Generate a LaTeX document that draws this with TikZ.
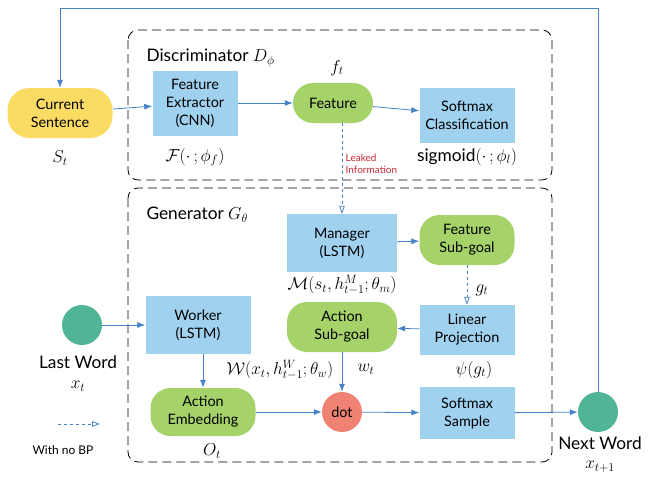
\documentclass[tikz,border=0pt]{standalone}
\usepackage{amsmath,amssymb}
\usepackage{fontspec}
\setmainfont{Lato}
\usetikzlibrary{calc,arrows.meta}
\definecolor{boxblue}{RGB}{160,210,240}
\definecolor{boxgreen}{RGB}{165,210,105}
\definecolor{boxyellow}{RGB}{250,220,100}
\definecolor{wordteal}{RGB}{80,180,150}
\definecolor{dotred}{RGB}{240,130,115}
\definecolor{arrowblue}{RGB}{70,130,200}
\definecolor{leakred}{RGB}{200,40,50}
\tikzset{
  block/.style={fill=boxblue,inner sep=2pt,minimum width=#1,minimum height=58pt,align=center,font=\Large},
  pill/.style={fill=boxgreen,inner sep=2pt,rounded corners=20pt,minimum width=#1,minimum height=46pt,align=center,font=\Large},
  word/.style={circle,fill=wordteal,minimum size=40pt},
  flow/.style={arrowblue,thick,-{Latex[length=8pt]}},
  nobp/.style={arrowblue,thick,dashed,-{Triangle[open,length=8pt]}},
  frame/.style={thick,dashed,dash pattern=on 9pt off 5pt,rounded corners=10pt},
  lbl/.style={font=\LARGE,inner sep=1pt}
}
\begin{document}
\begin{tikzpicture}[x=1pt,y=-1pt]
		\useasboundingbox (0,0) rectangle (650,485);
		% frames
		\draw[frame] (128,30) rectangle (552,180);
		\draw[frame] (128,188) rectangle (552,462);
		\node[font=\LARGE,anchor=west] at (143,58) {Discriminator $D_\phi$};
		\node[font=\LARGE,anchor=west] at (143,215) {Generator $G_\theta$};
		% discriminator
		\node[fill=boxyellow,inner sep=2pt,rounded corners=22pt,minimum width=105pt,minimum height=50pt,align=center,font=\Large] (sent) at (60,113) {Current\\Sentence};
		\node[lbl] at (60,158) {$S_t$};
		\node[block=85pt,minimum height=65pt] (cnn) at (195,103) {Feature\\Extractor\\(CNN)};
		\node[lbl] at (195,157) {$\mathcal{F}(\cdot\,;\phi_f)$};
		\node[pill=80pt,minimum height=40pt] (feat) at (333,103) {Feature};
		\node[lbl] at (337,68) {$f_t$};
		\node[block=95pt,minimum height=55pt] (cls) at (467,115) {Softmax\\Classification};
		\node[lbl] at (467,157) {$\mathrm{sigmoid}(\cdot\,;\phi_l)$};
		% generator
		\node[block=110pt] (mgr) at (342,243) {Manager\\(LSTM)};
		\node[lbl] at (342,285) {$\mathcal{M}(s_t,h^M_{t-1};\theta_m)$};
		\node[pill=95pt,minimum height=50pt] (fsub) at (467,240) {Feature\\Sub-goal};
		\node[lbl] at (482,290) {$g_t$};
		\node[block=95pt,minimum height=50pt] (proj) at (467,330) {Linear\\Projection};
		\node[lbl] at (474,370) {$\psi(g_t)$};
		\node[pill=110pt,minimum height=50pt] (asub) at (342,327) {Action\\Sub-goal};
		\node[lbl] at (366,369) {$w_t$};
		\node[block=105pt] (wrk) at (198,325) {Worker\\(LSTM)};
		\node[lbl] at (280,370) {$\mathcal{W}(x_t,h^W_{t-1};\theta_w)$};
		\node[pill=105pt,minimum height=48pt] (emb) at (203,412) {Action\\Embedding};
		\node[lbl] at (212,451) {$O_t$};
		\node[circle,fill=dotred,minimum size=40pt,inner sep=0pt,font=\Large] (dot) at (342,412) {dot};
		\node[block=95pt,minimum height=52pt] (smp) at (467,413) {Softmax\\Sample};
		% words
		\node[word] (last) at (82,325) {};
		\node[font=\LARGE] at (78,362) {Last Word};
		\node[font=\LARGE] at (78,386) {$x_t$};
		\node[word] (next) at (598,412) {};
		\node[font=\LARGE] at (600,443) {Next Word};
		\node[font=\LARGE] at (600,467) {$x_{t+1}$};
		% legend
		\coordinate (LegA) at (58,424);
		\coordinate (LegB) at (100,424);
		\draw[nobp] (LegA) -- (LegB);
		\node[font=\large] at (63,450) {With no BP};
		% connectors
		\draw[flow] (sent) -- (cnn);
		\draw[flow] (cnn) -- (feat);
		\draw[flow] (feat) -- (cls);
		\draw[nobp] (feat.south -| mgr.north) -- (mgr.north) node[pos=0.45,right,leakred,align=left,font=\normalsize] {Leaked\\Information};
		\draw[flow] (mgr) -- (fsub);
		\draw[nobp] (fsub) -- (proj);
		\draw[flow] (proj) -- (asub);
		\draw[flow] (asub) -- (dot);
		\draw[flow] (last) -- (wrk);
		\draw[flow] (wrk.south -| emb.north) -- (emb);
		\draw[flow] (emb) -- (dot);
		\draw[flow] (dot) -- (smp);
		\draw[flow] (smp) -- (next);
		\coordinate (TopR) at (598,8);
		\coordinate (TopL) at (60,8);
		\draw[flow] (next) -- (TopR) -- (TopL) -- (sent);
\end{tikzpicture}
\end{document}
